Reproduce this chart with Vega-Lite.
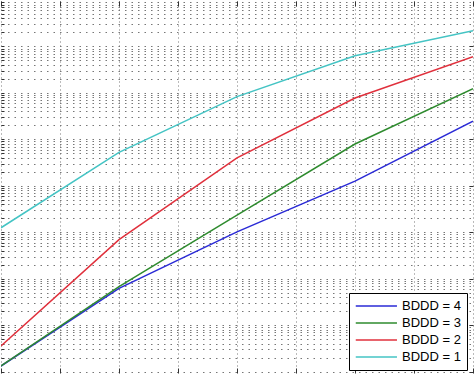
{
  "$schema": "https://vega.github.io/schema/vega-lite/v6.json",
  "width": 474,
  "height": 374,
  "autosize": {"type": "fit", "contains": "padding"},
  "padding": 0,
  "background": "white",
  "config": {"view": {"stroke": null}},
  "data": {
    "values": [
      {"x": 0, "p": 1.32e-8, "series": "BDDD = 4"},
      {"x": 2, "p": 6.17e-7, "series": "BDDD = 4"},
      {"x": 4, "p": 1.02e-5, "series": "BDDD = 4"},
      {"x": 6, "p": 1.26e-4, "series": "BDDD = 4"},
      {"x": 8, "p": 2.45e-3, "series": "BDDD = 4"},
      {"x": 0, "p": 1.32e-8, "series": "BDDD = 3"},
      {"x": 2, "p": 6.76e-7, "series": "BDDD = 3"},
      {"x": 4, "p": 2.34e-5, "series": "BDDD = 3"},
      {"x": 6, "p": 7.94e-4, "series": "BDDD = 3"},
      {"x": 8, "p": 1.23e-2, "series": "BDDD = 3"},
      {"x": 0, "p": 3.55e-8, "series": "BDDD = 2"},
      {"x": 2, "p": 6.92e-6, "series": "BDDD = 2"},
      {"x": 4, "p": 3.98e-4, "series": "BDDD = 2"},
      {"x": 6, "p": 7.76e-3, "series": "BDDD = 2"},
      {"x": 8, "p": 6.03e-2, "series": "BDDD = 2"},
      {"x": 0, "p": 1.25e-5, "series": "BDDD = 1"},
      {"x": 2, "p": 5.25e-4, "series": "BDDD = 1"},
      {"x": 4, "p": 8.32e-3, "series": "BDDD = 1"},
      {"x": 6, "p": 6.31e-2, "series": "BDDD = 1"},
      {"x": 8, "p": 0.219, "series": "BDDD = 1"}
    ]
  },
  "resolve": {"axis": {"x": "independent", "y": "independent"}},
  "layer": [
    {
      "mark": {"type": "line", "opacity": 0},
      "encoding": {
        "x": {
          "field": "x",
          "type": "quantitative",
          "scale": {"domain": [0, 8], "nice": false, "zero": false},
          "axis": {
            "orient": "top",
            "title": null,
            "labels": false,
            "domain": false,
            "grid": false,
            "values": [0, 1, 2, 3, 4, 5, 6, 7, 8],
            "tickSize": -5,
            "tickColor": "#333333"
          }
        },
        "y": {
          "field": "p",
          "type": "quantitative",
          "scale": {"type": "log", "domain": [9.33e-9, 0.952], "nice": false},
          "axis": {
            "orient": "right",
            "title": null,
            "labels": false,
            "domain": false,
            "grid": false,
            "values": [1e-8, 1e-7, 1e-6, 1e-5, 1e-4, 1e-3, 1e-2, 1e-1, 1],
            "tickSize": -4,
            "tickColor": "#333333"
          }
        }
      }
    },
    {
      "mark": {"type": "line", "strokeWidth": 1.5, "clip": true},
      "encoding": {
        "x": {
          "field": "x",
          "type": "quantitative",
          "scale": {"domain": [0, 8], "nice": false, "zero": false},
          "axis": {
            "title": null,
            "labels": false,
            "domain": false,
            "values": [0, 1, 2, 3, 4, 5, 6, 7, 8],
            "ticks": true,
            "tickSize": -5,
            "tickColor": "#333333",
            "grid": true,
            "gridColor": "#777777",
            "gridDash": [1, 3],
            "gridWidth": 1
          }
        },
        "y": {
          "field": "p",
          "type": "quantitative",
          "scale": {"type": "log", "domain": [9.33e-9, 0.952], "nice": false},
          "axis": {
            "title": null,
            "labels": false,
            "domain": false,
            "values": [1e-8, 2e-8, 3e-8, 4e-8, 5e-8, 6e-8, 7e-8, 8e-8, 9e-8,
                       1e-7, 2e-7, 3e-7, 4e-7, 5e-7, 6e-7, 7e-7, 8e-7, 9e-7,
                       1e-6, 2e-6, 3e-6, 4e-6, 5e-6, 6e-6, 7e-6, 8e-6, 9e-6,
                       1e-5, 2e-5, 3e-5, 4e-5, 5e-5, 6e-5, 7e-5, 8e-5, 9e-5,
                       1e-4, 2e-4, 3e-4, 4e-4, 5e-4, 6e-4, 7e-4, 8e-4, 9e-4,
                       1e-3, 2e-3, 3e-3, 4e-3, 5e-3, 6e-3, 7e-3, 8e-3, 9e-3,
                       1e-2, 2e-2, 3e-2, 4e-2, 5e-2, 6e-2, 7e-2, 8e-2, 9e-2,
                       1e-1, 2e-1, 3e-1, 4e-1, 5e-1, 6e-1, 7e-1, 8e-1, 9e-1, 1],
            "ticks": true,
            "tickSize": -3,
            "tickColor": "#333333",
            "grid": true,
            "gridColor": "#777777",
            "gridDash": [1.5, 5],
            "gridWidth": 1
          }
        },
        "color": {
          "field": "series",
          "type": "nominal",
          "scale": {
            "domain": ["BDDD = 4", "BDDD = 3", "BDDD = 2", "BDDD = 1"],
            "range": ["#2a2ad6", "#2e8b2e", "#e0303c", "#44c4c4"]
          },
          "legend": {
            "title": null,
            "orient": "none",
            "legendX": 348,
            "legendY": 292,
            "symbolType": "M-1,0H5.6",
            "symbolSize": 156,
            "symbolStrokeWidth": 1.5,
            "labelFont": "Liberation Sans",
            "labelFontSize": 13,
            "labelColor": "black",
            "labelOffset": 33,
            "rowPadding": 3,
            "padding": 6,
            "strokeColor": "black",
            "fillColor": "white",
            "cornerRadius": 0
          }
        }
      }
    }
  ]
}
